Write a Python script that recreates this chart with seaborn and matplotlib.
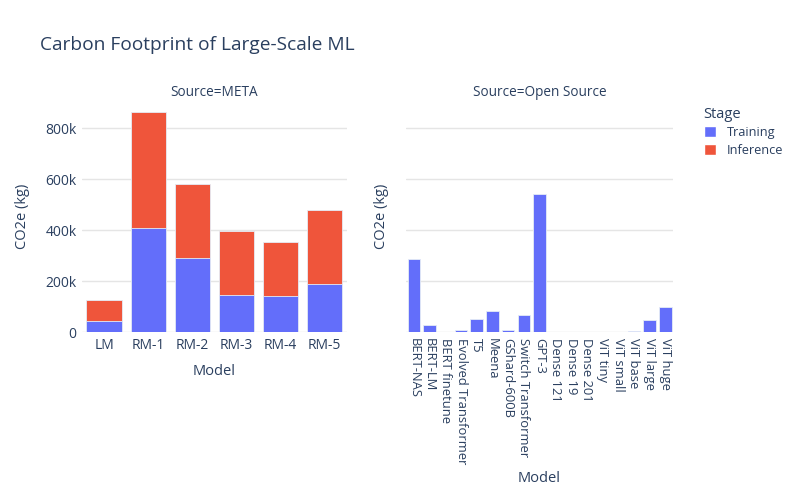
import pandas as pd
import matplotlib.pyplot as plt
import seaborn as sns
from matplotlib.patches import Patch
from matplotlib.ticker import FuncFormatter

# Data (kg CO2e)
meta_models = ["LM", "RM-1", "RM-2", "RM-3", "RM-4", "RM-5"]
meta_training = [42000, 407000, 291000, 144000, 141000, 187000]
meta_inference = [82000, 457000, 291000, 252000, 211000, 291000]

os_models = ["BERT-NAS", "BERT-LM", "BERT finetune", "Evolved Transformer", "T5",
             "Meena", "GShard-600B", "Switch Transformer", "GPT-3", "Dense 121",
             "Dense 19", "Dense 201", "ViT tiny", "ViT small", "ViT base",
             "ViT large", "ViT huge"]
os_training = [288000, 29000, 1000, 9500, 50000, 84000, 9500, 68000, 540000,
               300, 300, 300, 300, 1000, 2500, 47000, 100000]

TRAIN_COLOR = "#636EFA"
INFER_COLOR = "#EF553B"
TEXT_COLOR = "#2a3f5f"

sns.set_theme(style="whitegrid")
plt.rcParams["font.family"] = ["Open Sans", "DejaVu Sans"]
plt.rcParams["text.color"] = TEXT_COLOR
plt.rcParams["axes.labelcolor"] = TEXT_COLOR
plt.rcParams["xtick.color"] = TEXT_COLOR
plt.rcParams["ytick.color"] = TEXT_COLOR

fig = plt.figure(figsize=(8, 5), dpi=100)
ax1 = fig.add_axes([0.1025, 0.336, 0.331, 0.464])
ax2 = fig.add_axes([0.5075, 0.336, 0.334, 0.464], sharey=ax1)

meta = pd.DataFrame({"Model": meta_models, "Training": meta_training,
                     "Inference": meta_inference})
meta["Total"] = meta["Training"] + meta["Inference"]
opensrc = pd.DataFrame({"Model": os_models, "Training": os_training})

edge = dict(edgecolor="#E5ECF6", linewidth=0.6)
# stacked: total in inference colour, training drawn over it
sns.barplot(data=meta, x="Model", y="Total", color=INFER_COLOR, saturation=1,
            width=0.8, ax=ax1, **edge)
sns.barplot(data=meta, x="Model", y="Training", color=TRAIN_COLOR, saturation=1,
            width=0.8, ax=ax1, **edge)
sns.barplot(data=opensrc, x="Model", y="Training", color=TRAIN_COLOR, saturation=1,
            width=0.8, ax=ax2, **edge)

ax1.set_ylim(0, 910000)
ax1.set_yticks([0, 200000, 400000, 600000, 800000])
ax1.yaxis.set_major_formatter(FuncFormatter(lambda v, p: "0" if v == 0 else f"{int(v/1000)}k"))

for ax, title in [(ax1, "Source=META"), (ax2, "Source=Open Source")]:
    for s in ax.spines.values():
        s.set_visible(False)
    ax.grid(axis="y", color="#E5E5E5", linewidth=1)
    ax.grid(axis="x", visible=False)
    ax.tick_params(length=0, labelsize=10, pad=4)
    ax.set_title(title, fontsize=9.8, pad=3, color=TEXT_COLOR)
    ax.set_xlim(-0.5, len(ax.get_xticks()) - 0.5)

ax1.set_xlabel("Model", fontsize=10.5, labelpad=8)
ax2.set_xlabel("Model", fontsize=10.5, labelpad=5)
ax1.set_ylabel("CO2e (kg)", fontsize=10.5, labelpad=11)
ax2.set_ylabel("CO2e (kg)", fontsize=10.5, labelpad=12)
ax2.tick_params(labelleft=False)
ax2.tick_params(axis="x", rotation=-90, labelsize=9.4)
for lbl in ax2.get_xticklabels():
    lbl.set_verticalalignment("top")
    lbl.set_horizontalalignment("center")

fig.text(0.05, 0.91, "Carbon Footprint of Large-Scale ML", fontsize=13.8, color=TEXT_COLOR,
         va="center")

handles = [Patch(facecolor=TRAIN_COLOR, label="Training"),
           Patch(facecolor=INFER_COLOR, label="Inference")]
fig.legend(handles=handles, title="Stage", loc="upper left", bbox_to_anchor=(0.865, 0.81),
           frameon=False, fontsize=9.2, title_fontsize=10.5, handlelength=1.0,
           handleheight=1.0, alignment="left", labelspacing=0.35)

plt.savefig("out.png", dpi=100)
plt.close()
